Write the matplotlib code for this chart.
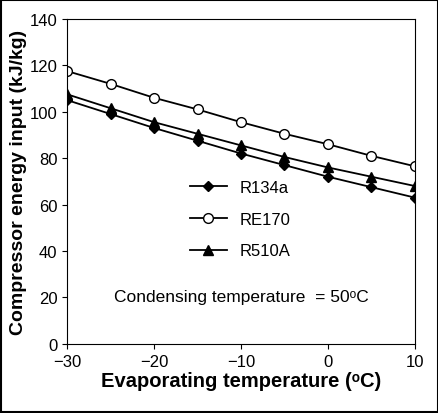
import matplotlib
matplotlib.use("Agg")
import matplotlib.pyplot as plt

x = [-30, -25, -20, -15, -10, -5, 0, 5, 10]
r134a = [105, 99, 93, 87.5, 82, 77, 72, 67.5, 63]
re170 = [117.5, 112, 106, 101, 95.5, 90.5, 86, 81, 76.5]
r510a = [107.5, 101.5, 95.5, 90.5, 85.5, 80.5, 76, 72, 68]

plt.rcParams['font.family'] = ['Liberation Sans', 'DejaVu Sans']
fig = plt.figure(figsize=(4.39, 4.14), dpi=100)
fig.patches.append(plt.Rectangle((0.003, 0.003), 0.994, 0.994, transform=fig.transFigure,
                                 fill=False, edgecolor='black', lw=1.5))
ax = fig.add_axes([0.153, 0.167, 0.792, 0.785])
ax.plot(x, r134a, '-D', color='black', ms=5, lw=1.3, label='R134a')
ax.plot(x, re170, '-o', color='black', mfc='white', ms=7, lw=1.3, label='RE170')
ax.plot(x, r510a, '-^', color='black', ms=7, lw=1.3, label='R510A')
ax.set_xlim(-30, 10)
ax.set_ylim(0, 140)
ax.set_xticks(range(-30, 11, 10))
ax.set_yticks(range(0, 141, 20))
ax.tick_params(labelsize=12, direction='out')
ax.set_xlabel('Evaporating temperature (ᵒC)', fontsize=14.5, fontweight='bold', labelpad=2)
ax.set_ylabel('Compressor energy input (kJ/kg)', fontsize=14, fontweight='bold', labelpad=2)
ax.legend(loc='upper left', bbox_to_anchor=(0.31, 0.55), frameon=False, fontsize=12,
          handlelength=2.2, labelspacing=1.0)
ax.text(0.5, 0.145, 'Condensing temperature  = 50ᵒC', transform=ax.transAxes,
        ha='center', va='center', fontsize=12.5)
fig.savefig('out.png', dpi=100)
